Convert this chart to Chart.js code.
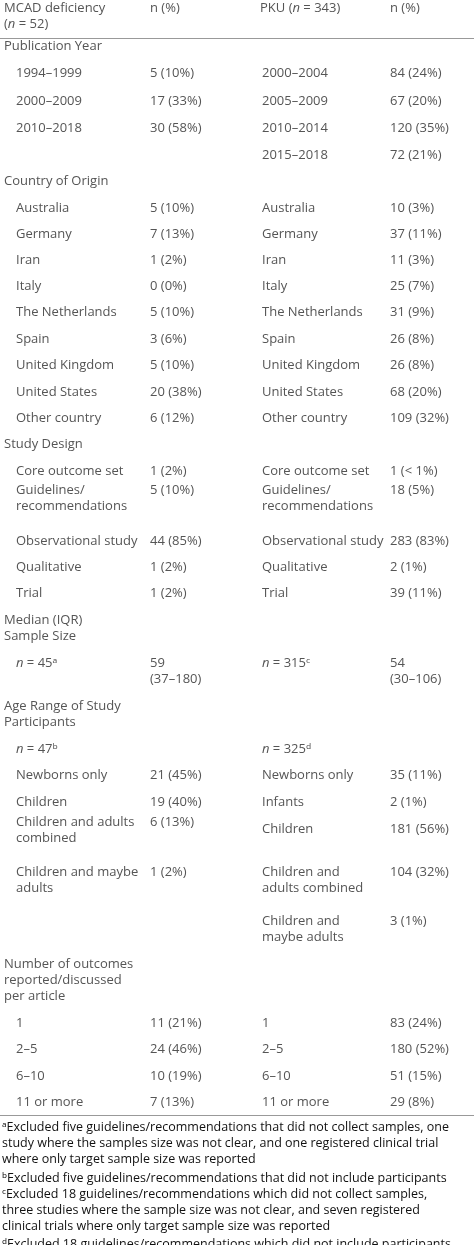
<!DOCTYPE html>
<html><head><meta charset="utf-8">
<script src="https://cdn.jsdelivr.net/npm/chart.js@4/dist/chart.umd.min.js"></script>
<style>html,body{margin:0;padding:0;background:#fff}#wrap{width:474px;height:1245px}</style>
</head><body><div id="wrap"><canvas id="c"></canvas></div>
<script>
// Table content (col1, col2, col3, col4); lines separated by \n; *n* = italic
const headers = ["MCAD deficiency\n(*n* = 52)", "n (%)", "PKU (*n* = 343)", "n (%)"];
const sections = ["Publication Year","Country of Origin","Study Design","Median (IQR)\nSample Size","Age Range of Study\nParticipants","Number of outcomes\nreported/discussed\nper article"];
const col1 = ["1994–1999","2000–2009","2010–2018","",
 "Australia","Germany","Iran","Italy","The Netherlands","Spain","United Kingdom","United States","Other country",
 "Core outcome set","Guidelines/\nrecommendations","Observational study","Qualitative","Trial",
 "*n* = 45ᵃ",
 "*n* = 47ᵇ","Newborns only","Children","Children and adults\ncombined","Children and maybe\nadults","",
 "1","2–5","6–10","11 or more"];
const col2 = ["5 (10%)","17 (33%)","30 (58%)","",
 "5 (10%)","7 (13%)","1 (2%)","0 (0%)","5 (10%)","3 (6%)","5 (10%)","20 (38%)","6 (12%)",
 "1 (2%)","5 (10%)","44 (85%)","1 (2%)","1 (2%)",
 "59\n(37–180)",
 "","21 (45%)","19 (40%)","6 (13%)","1 (2%)","",
 "11 (21%)","24 (46%)","10 (19%)","7 (13%)"];
const col3 = ["2000–2004","2005–2009","2010–2014","2015–2018",
 "Australia","Germany","Iran","Italy","The Netherlands","Spain","United Kingdom","United States","Other country",
 "Core outcome set","Guidelines/\nrecommendations","Observational study","Qualitative","Trial",
 "*n* = 315ᶜ",
 "*n* = 325ᵈ","Newborns only","Infants","Children","Children and\nadults combined","Children and\nmaybe adults",
 "1","2–5","6–10","11 or more"];
const col4 = ["84 (24%)","67 (20%)","120 (35%)","72 (21%)",
 "10 (3%)","37 (11%)","11 (3%)","25 (7%)","31 (9%)","26 (8%)","26 (8%)","68 (20%)","109 (32%)",
 "1 (< 1%)","18 (5%)","283 (83%)","2 (1%)","39 (11%)",
 "54\n(30–106)",
 "","35 (11%)","2 (1%)","181 (56%)","104 (32%)","3 (1%)",
 "83 (24%)","180 (52%)","51 (15%)","29 (8%)"];
const footnotes = [
 "ᵃExcluded five guidelines/recommendations that did not collect samples, one\nstudy where the samples size was not clear, and one registered clinical trial\nwhere only target sample size was reported",
 "ᵇExcluded five guidelines/recommendations that did not include participants",
 "ᶜExcluded 18 guidelines/recommendations which did not collect samples,\nthree studies where the sample size was not clear, and seven registered\nclinical trials where only target sample size was reported",
 "ᵈExcluded 18 guidelines/recommendations which did not include participants"];

// Layout (positions only)
const headerY = 8, sectionY = [46,181,444,620,706,964];
const rowY = [73,101,128,155, 208,234,260,286,312,339,365,392,418, 471,490,541,567,593, 663, 749,775,802,822,872,921, 1023,1049,1076,1102];
const rowY3 = [73,101,128,155, 208,234,260,286,312,339,365,392,418, 471,490,541,567,593, 663, 749,775,802,829,872,921, 1023,1049,1076,1102];
const colX = [16,150,262,390], LH = 16, footY = [1127,1178,1194,1244], lines = [38,1115];

const tablePlugin = {
 id:'table',
 afterDraw(chart){
  const ctx=chart.ctx, xs=chart.scales.x, ys=chart.scales.y;
  const X=v=>xs.getPixelForValue(v), Y=v=>ys.getPixelForValue(v);
  const fam='"Open Sans","Noto Sans",sans-serif';
  function seg(t,x,y,size,color){
   const parts=t.split('*'); let cx=x;
   parts.forEach((p,i)=>{ctx.font=(i%2?'italic ':'')+size+'px '+fam;ctx.fillStyle=color;ctx.fillText(p,cx,y);cx+=ctx.measureText(p).width;});
  }
  function draw(t,x,y,size=13,color='#555'){
   ctx.textBaseline='middle';
   t.split('\n').forEach((l,i)=>seg(l,X(x),Y(y+i*LH),size,color));
  }
  ctx.save();
  ctx.strokeStyle='#999';ctx.lineWidth=1;
  lines.forEach(l=>{ctx.beginPath();ctx.moveTo(X(0),Math.round(Y(l))+0.5);ctx.lineTo(X(474),Math.round(Y(l))+0.5);ctx.stroke();});
  draw(headers[0],4,headerY);draw(headers[1],colX[1],headerY);draw(headers[2],colX[2]-2,headerY);draw(headers[3],colX[3],headerY);
  sections.forEach((s,i)=>draw(s,4,sectionY[i]));
  col1.forEach((s,i)=>draw(s,colX[0],rowY[i]));
  col2.forEach((s,i)=>draw(s,colX[1],rowY[i]));
  col3.forEach((s,i)=>draw(s,colX[2],rowY3[i]));
  col4.forEach((s,i)=>draw(s,colX[3],rowY3[i]));
  footnotes.forEach((s,i)=>draw(s,2,footY[i],12.5,'#111'));
  ctx.restore();
 }
};
new Chart(document.getElementById('c'),{
 type:'scatter',
 data:{datasets:[{data:[],pointRadius:0}]},
 options:{responsive:true,maintainAspectRatio:false,animation:false,
  layout:{padding:0},
  plugins:{legend:{display:false},tooltip:{enabled:false}},
  scales:{x:{type:'linear',min:0,max:474,display:false},y:{type:'linear',min:0,max:1245,reverse:true,display:false}}},
 plugins:[tablePlugin]
});
</script></body></html>
